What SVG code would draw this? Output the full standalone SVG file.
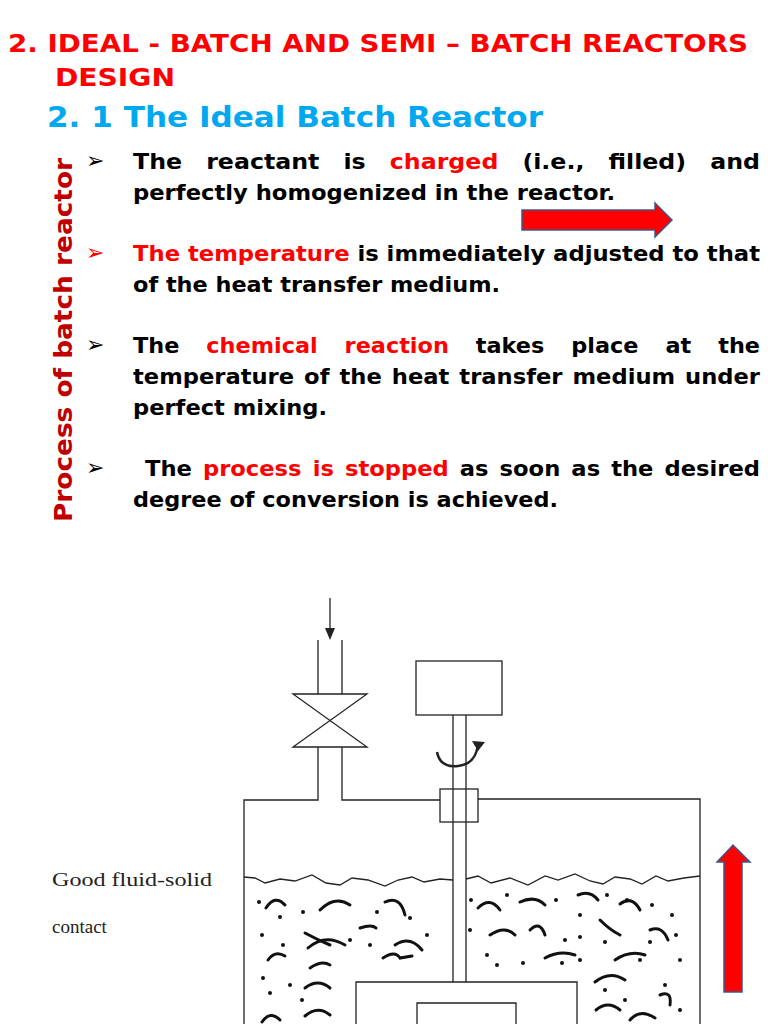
<svg xmlns="http://www.w3.org/2000/svg" width="768" height="1024" viewBox="0 0 768 1024">
<style>
.t{font-family:"DejaVu Sans",Verdana,sans-serif;font-weight:bold}
.b{font-family:"DejaVu Sans",Verdana,sans-serif;font-weight:bold;font-size:21px;fill:#000}
.r{fill:#ff0000}
.g{fill:none;stroke:#222;stroke-width:1.3}
.p{fill:none;stroke:#111;stroke-width:3;stroke-linecap:round}
.bul{font-family:"DejaVu Sans",sans-serif;font-size:22px}
.s{font-family:"Liberation Serif","Times New Roman",serif;font-size:19px;fill:#222}
</style>
<rect width="768" height="1024" fill="#fff"/>
<g id="title">
<text class="t r" x="8" y="52" font-size="24" textLength="740" lengthAdjust="spacingAndGlyphs">2.  IDEAL - BATCH AND SEMI – BATCH REACTORS</text>
<text class="t r" x="55" y="86" font-size="24" textLength="120" lengthAdjust="spacingAndGlyphs">DESIGN</text>
<text class="t" x="47" y="127" font-size="29" fill="#00a8f0" textLength="496" lengthAdjust="spacingAndGlyphs">2. 1  The Ideal Batch Reactor</text>
</g>
<g id="side-label">
<text class="t" transform="translate(72,522) rotate(-90)" font-size="25" fill="#c00000" textLength="364" lengthAdjust="spacingAndGlyphs">Process of batch reactor</text>
</g>
<g id="bullets">
<text class="bul" x="86" y="168">➢</text>
<text class="b" x="133" y="169" word-spacing="14" textLength="627" lengthAdjust="spacingAndGlyphs">The reactant is  <tspan class="r">charged</tspan> (i.e., filled) and</text>
<text class="b" x="133" y="200" textLength="482" lengthAdjust="spacingAndGlyphs">perfectly homogenized in the reactor.</text>
<text class="bul r" x="86" y="260">➢</text>
<text class="b" x="133" y="261" textLength="627" lengthAdjust="spacingAndGlyphs"><tspan class="r">The temperature</tspan> is immediately adjusted to that</text>
<text class="b" x="133" y="292" textLength="367" lengthAdjust="spacingAndGlyphs">of the heat transfer medium.</text>
<text class="bul" x="86" y="352">➢</text>
<text class="b" x="133" y="353" word-spacing="18" textLength="627" lengthAdjust="spacingAndGlyphs">The <tspan class="r">chemical reaction</tspan> takes place at the</text>
<text class="b" x="133" y="384" word-spacing="2" textLength="627" lengthAdjust="spacingAndGlyphs">temperature of the heat transfer medium under</text>
<text class="b" x="133" y="415" textLength="194" lengthAdjust="spacingAndGlyphs">perfect mixing.</text>
<text class="bul" x="86" y="475">➢</text>
<text class="b" x="145" y="476" word-spacing="3" textLength="615" lengthAdjust="spacingAndGlyphs">The <tspan class="r">process is stopped</tspan> as soon as the desired</text>
<text class="b" x="133" y="507" textLength="425" lengthAdjust="spacingAndGlyphs">degree of conversion is achieved.</text>
</g>
<g id="arrow-right">
<path d="M522,210 H655 V203 L672,220 L655,237 V230 H522 Z" fill="#ff0000" stroke="#3b5a8c" stroke-width="1.5"/>
</g>
<g id="arrow-up">
<path d="M724,992 V862 H717 L733,845 L750,862 H742 V992 Z" fill="#ff0000" stroke="#3b5a8c" stroke-width="1.5"/>
</g>
<g id="labels">
<text class="s" x="52" y="886" textLength="160" lengthAdjust="spacingAndGlyphs" font-size="21">Good fluid-solid</text>
<text class="s" x="52" y="933" font-size="21">contact</text>
</g>
<g id="reactor">
<line class="g" x1="330" y1="598" x2="330" y2="630"/>
<path d="M325,628 L335,628 L330,640 Z" fill="#222"/>
<path class="g" d="M318,640 V694 M342,640 V694 M293,694 H367 L293,747 H367 Z M318,747 V800 H244 V1024 M342,747 V800 H440 M478,799 H700 V1024"/>
<rect class="g" x="416" y="661" width="86" height="54"/>
<rect class="g" x="440" y="789" width="38" height="33"/>
<path class="g" d="M453,715 V982 M466,715 V982"/>
<path d="M437,752 Q440,768 458,766 Q476,764 478,744" fill="none" stroke="#222" stroke-width="2.5"/>
<path d="M472,741 L485,742 L478,751 Z" fill="#222"/>
<path class="g" d="M244,877 L255,878 L265,883 L280,879 L295,881 L312,875 L326,883 L340,885 L352,878 L368,880 L385,886 L398,880 L412,877 L424,882 L440,879 L453,880 M466,879 L478,876 L491,883 L510,878 L528,885 L545,876 L558,880 L575,874 L590,881 L603,884 L615,877 L630,879 L642,884 L656,876 L668,881 L684,878 L700,876"/>
<path class="g" d="M356,1024 V982 H577 V1024 M417,1024 V1003 H516 V1024"/>
<g class="p">
<path d="M266,908 Q275,894 285,905"/><path d="M320,910 Q335,895 350,905"/><path d="M385,902 Q400,895 405,915"/>
<path d="M305,933 Q318,940 330,945"/><path d="M308,948 Q325,933 345,945"/><path d="M395,945 Q410,935 422,950"/>
<path d="M268,960 Q275,950 285,956"/><path d="M310,968 Q322,960 330,965"/><path d="M383,958 Q395,950 400,958 L412,956"/>
<path d="M305,988 Q318,978 330,988"/><path d="M305,1016 Q318,1005 330,1015"/><path d="M262,1022 Q270,1010 280,1020"/>
<path d="M478,908 Q490,896 500,910"/><path d="M520,902 Q535,895 545,905"/><path d="M578,895 Q590,890 598,900"/>
<path d="M620,904 Q632,895 640,910"/><path d="M490,935 Q505,925 515,935"/><path d="M530,930 Q540,920 545,935"/>
<path d="M600,920 Q610,930 620,935"/><path d="M650,930 Q662,925 668,940"/><path d="M545,958 Q560,950 575,955"/>
<path d="M615,960 Q630,950 645,955"/><path d="M595,982 Q610,970 625,980"/><path d="M660,995 Q672,990 670,1005"/>
<path d="M596,1010 Q608,1000 620,1010"/><path d="M630,1020 Q640,1008 655,1018"/><path d="M360,928 Q372,924 376,928"/>
</g>
<g fill="#111">
<circle cx="259" cy="902" r="2"/><circle cx="303" cy="912" r="2"/><circle cx="280" cy="917" r="2"/><circle cx="377" cy="912" r="2"/><circle cx="410" cy="918" r="2"/>
<circle cx="262" cy="935" r="2"/><circle cx="283" cy="945" r="2"/><circle cx="350" cy="940" r="2"/><circle cx="370" cy="945" r="2"/><circle cx="427" cy="935" r="2"/>
<circle cx="263" cy="978" r="2"/><circle cx="290" cy="985" r="2"/><circle cx="302" cy="1000" r="2"/><circle cx="270" cy="993" r="2"/>
<circle cx="471" cy="900" r="2"/><circle cx="507" cy="895" r="2"/><circle cx="556" cy="900" r="2"/><circle cx="580" cy="915" r="2"/><circle cx="607" cy="895" r="2"/>
<circle cx="627" cy="900" r="2"/><circle cx="652" cy="905" r="2"/><circle cx="672" cy="915" r="2"/><circle cx="470" cy="930" r="2"/><circle cx="565" cy="940" r="2"/>
<circle cx="580" cy="937" r="2"/><circle cx="605" cy="942" r="2"/><circle cx="650" cy="942" r="2"/><circle cx="676" cy="935" r="2"/><circle cx="487" cy="955" r="2"/>
<circle cx="497" cy="965" r="2"/><circle cx="523" cy="963" r="2"/><circle cx="562" cy="963" r="2"/><circle cx="580" cy="960" r="2"/><circle cx="640" cy="960" r="2"/>
<circle cx="680" cy="960" r="2"/><circle cx="605" cy="990" r="2"/><circle cx="625" cy="1000" r="2"/><circle cx="665" cy="985" r="2"/><circle cx="680" cy="1010" r="2"/>
</g>
</g>
</svg>
